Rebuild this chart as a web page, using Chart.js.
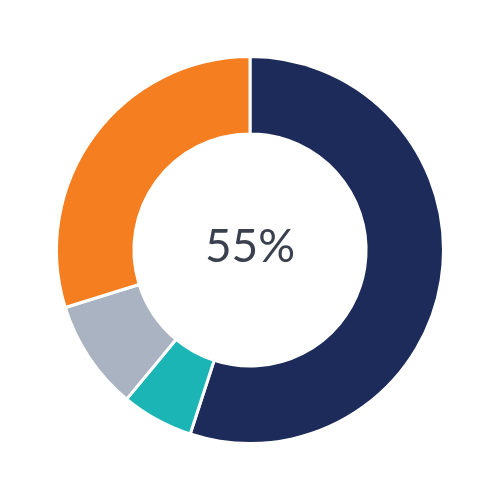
<!DOCTYPE html>
<html>
<head>
<meta charset="utf-8">
<script src="https://cdn.jsdelivr.net/npm/chart.js@4/dist/chart.umd.min.js"></script>
<style>
  html, body { margin: 0; padding: 0; background: #fff; }
  #wrap { width: 500px; height: 500px; }
</style>
</head>
<body>
<div id="wrap"><canvas id="myChart" width="500" height="500"></canvas></div>
<script>
const labels = ['Navy', 'Teal', 'Gray', 'Orange'];
const values = [55, 6, 9.2, 29.8];
const colors = ['#1c2b5a', '#1bb5b5', '#a9b3c1', '#f47e20'];
const centerLabel = '55%';

// draws the big number in the hole
const centerText = {
  id: 'centerText',
  afterDraw(chart) {
    const { ctx } = chart;
    const meta = chart.getDatasetMeta(0).data[0];
    ctx.save();
    ctx.font = '400 46px Lato, "Open Sans", sans-serif';
    ctx.fillStyle = '#3a404e';
    ctx.textAlign = 'center';
    ctx.textBaseline = 'middle';
    ctx.fillText(centerLabel, meta.x, meta.y - 3);
    ctx.restore();
  }
};

const ctx = document.getElementById('myChart');
new Chart(ctx, {
  type: 'doughnut',
  data: {
    labels: labels,
    datasets: [{
      data: values,
      backgroundColor: colors,
      borderColor: '#ffffff',
      borderWidth: 3,
    }]
  },
  options: {
    responsive: false,
    animation: false,
    cutout: '60%',
    layout: { padding: 55 },
    plugins: {
      legend: { display: false },
      tooltip: { enabled: false }
    }
  },
  plugins: [centerText]
});
</script>
</body>
</html>
